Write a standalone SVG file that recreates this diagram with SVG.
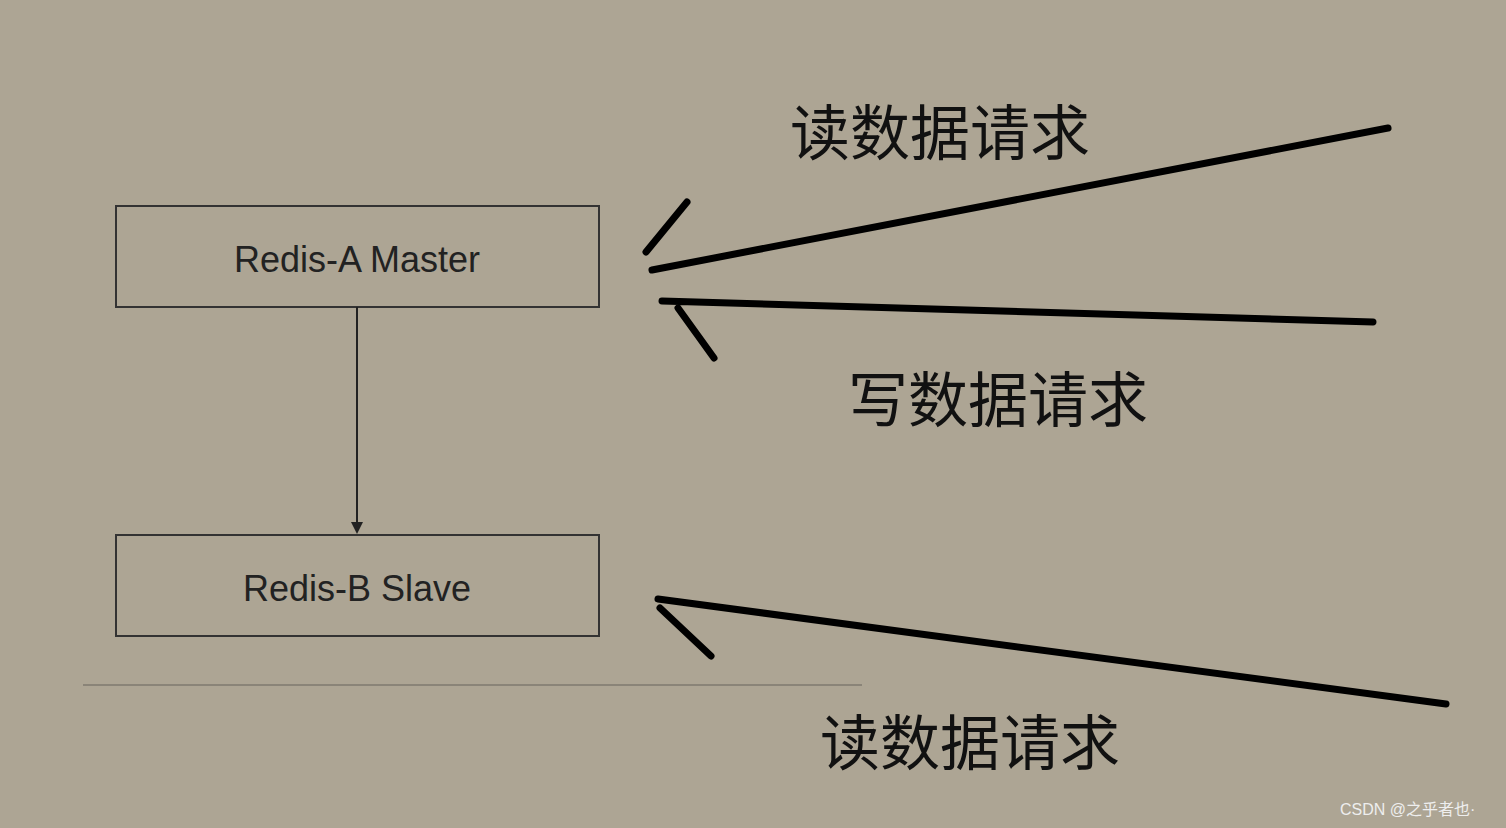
<svg xmlns="http://www.w3.org/2000/svg" width="1506" height="828" viewBox="0 0 1506 828">
<style>
.box{fill:none;stroke:#333;stroke-width:2}
.lbl{font-family:"Liberation Sans","DejaVu Sans",sans-serif;font-size:36px;fill:#222;text-anchor:middle}
.cn{font-family:"Noto Sans CJK SC",sans-serif;font-size:60px;fill:#111}
.hand{stroke:#000;stroke-width:7;stroke-linecap:round;fill:none}
</style>
<defs><marker id="ah" markerWidth="12" markerHeight="12" refX="10" refY="6" orient="auto" markerUnits="userSpaceOnUse"><path d="M0,0 L12,6 L0,12 Z" fill="#222"/></marker></defs>
<rect width="1506" height="828" fill="#ada594"/>
<g id="master"><rect class="box" x="116" y="206" width="483" height="101"/><text class="lbl" x="357" y="272">Redis-A Master</text></g>
<g id="slave"><rect class="box" x="116" y="535" width="483" height="101"/><text class="lbl" x="357" y="601">Redis-B Slave</text></g>
<g id="connectors">
<line x1="357" y1="307" x2="357" y2="532" stroke="#222" stroke-width="2" marker-end="url(#ah)"/>
<line x1="83" y1="685" x2="862" y2="685" stroke="#8a8478" stroke-width="2"/>
<path class="hand" d="M1388,128 L652,270 M646,252 L687,202"/>
<path class="hand" d="M1373,322 L662,301 M678,308 L714,358"/>
<path class="hand" d="M1446,704 L658,599 M660,608 L711,656"/>
</g>
<text class="cn" x="790" y="155">读数据请求</text>
<text class="cn" x="848" y="422">写数据请求</text>
<text class="cn" x="820" y="765">读数据请求</text>
<text x="1340" y="815" font-family="'Liberation Sans','Noto Sans CJK SC',sans-serif" font-size="16" fill="#eee">CSDN @之乎者也·</text>
</svg>
